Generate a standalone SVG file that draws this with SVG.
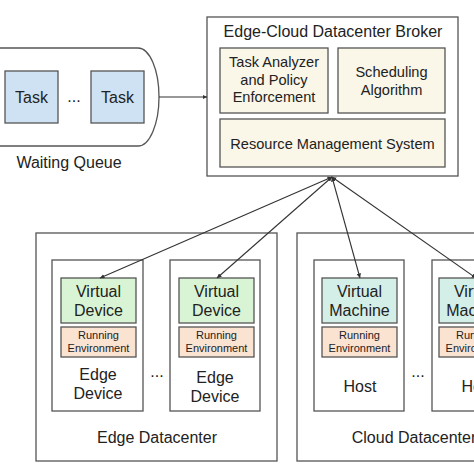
<svg xmlns="http://www.w3.org/2000/svg" width="474" height="474" viewBox="0 0 474 474">
<defs>
<marker id="ah" viewBox="0 0 10 10" refX="10" refY="5" markerWidth="4.5" markerHeight="4.5" orient="auto-start-reverse" markerUnits="userSpaceOnUse">
<path d="M0,0 L10,5 L0,10 z" fill="#333"/>
</marker>
<style>
text{font-family:"Liberation Sans",Arial,sans-serif;fill:#222;text-anchor:middle}
.box{fill:#fff;stroke:#555;stroke-width:1.3}
.cream{fill:#faf6e8;stroke:#555;stroke-width:1.3}
.task{fill:#cfe2f3;stroke:#555;stroke-width:1.3}
.vd{fill:#d9f4d5;stroke:#555;stroke-width:1.3}
.vm{fill:#d4efe8;stroke:#555;stroke-width:1.3}
.re{fill:#fbe3d2;stroke:#555;stroke-width:1.3}
.f16{font-size:16px}
.f15{font-size:14.6px}
.f11{font-size:11px}
.conn{stroke:#333;stroke-width:1.1;fill:none}
</style>
</defs>
<rect width="474" height="474" fill="#fff"/>

<g id="waiting-queue">
<path class="box" d="M-10,48 H138 A21,49 0 0 1 138,146 H-10"/>
<rect class="task" x="5" y="71" width="53" height="52"/>
<text class="f16" x="31.5" y="103">Task</text>
<text class="f16" x="74" y="102">...</text>
<rect class="task" x="91" y="71" width="53" height="52"/>
<text class="f16" x="117.5" y="103">Task</text>
<text class="f16" x="69" y="168">Waiting Queue</text>
</g>

<g id="broker">
<rect class="box" x="207" y="17" width="251" height="159"/>
<text class="f16" x="333" y="37">Edge-Cloud Datacenter Broker</text>
<g id="task-analyzer">
<rect class="cream" x="220" y="48" width="108" height="65"/>
<text class="f15" x="274" y="67">Task Analyzer</text>
<text class="f15" x="274" y="84.5">and Policy</text>
<text class="f15" x="274" y="102">Enforcement</text>
</g>
<g id="scheduling">
<rect class="cream" x="338" y="48" width="107" height="65"/>
<text class="f15" x="391.5" y="77">Scheduling</text>
<text class="f15" x="391.5" y="94.5">Algorithm</text>
</g>
<g id="rms">
<rect class="cream" x="220" y="119" width="225" height="48"/>
<text class="f15" x="332.5" y="149">Resource Management System</text>
</g>
</g>

<g id="edge-datacenter">
<rect class="box" x="36" y="233" width="241" height="228"/>
<text class="f16" x="157" y="443">Edge Datacenter</text>
<g id="edge-device-1">
<rect class="box" x="52" y="260" width="91" height="151"/>
<rect class="vd" x="61" y="278" width="75" height="45"/>
<text class="f16" x="98.5" y="297">Virtual</text>
<text class="f16" x="98.5" y="316">Device</text>
<rect class="re" x="61" y="327" width="75" height="30"/>
<text class="f11" x="98.5" y="339">Running</text>
<text class="f11" x="98.5" y="352">Environment</text>
<text class="f16" x="98" y="380">Edge</text>
<text class="f16" x="98" y="399">Device</text>
</g>
<text class="f16" x="157" y="377">...</text>
<g id="edge-device-2">
<rect class="box" x="170" y="260" width="90" height="151"/>
<rect class="vd" x="179" y="278" width="75" height="45"/>
<text class="f16" x="216.5" y="297">Virtual</text>
<text class="f16" x="216.5" y="316">Device</text>
<rect class="re" x="179" y="327" width="75" height="30"/>
<text class="f11" x="216.5" y="339">Running</text>
<text class="f11" x="216.5" y="352">Environment</text>
<text class="f16" x="215" y="383">Edge</text>
<text class="f16" x="215" y="402">Device</text>
</g>
</g>

<g id="cloud-datacenter">
<rect class="box" x="297" y="233" width="200" height="228"/>
<text class="f16" x="414" y="443">Cloud Datacenter</text>
<g id="host-1">
<rect class="box" x="314" y="260" width="90" height="151"/>
<rect class="vm" x="322" y="278" width="75" height="45"/>
<text class="f16" x="359.5" y="297">Virtual</text>
<text class="f16" x="359.5" y="316">Machine</text>
<rect class="re" x="322" y="327" width="75" height="30"/>
<text class="f11" x="359.5" y="339">Running</text>
<text class="f11" x="359.5" y="352">Environment</text>
<text class="f16" x="360" y="392">Host</text>
</g>
<text class="f16" x="418" y="377">...</text>
<g id="host-2">
<rect class="box" x="432" y="260" width="90" height="151"/>
<rect class="vm" x="439" y="278" width="75" height="45"/>
<text class="f16" x="476.5" y="297">Virtual</text>
<text class="f16" x="476.5" y="316">Machine</text>
<rect class="re" x="439" y="327" width="75" height="30"/>
<text class="f11" x="476.5" y="339">Running</text>
<text class="f11" x="476.5" y="352">Environment</text>
<text class="f16" x="478" y="392">Host</text>
</g>
</g>

<g id="connectors">
<line class="conn" x1="159" y1="97" x2="207" y2="97" marker-end="url(#ah)"/>
<line class="conn" x1="332" y1="177" x2="100" y2="278" marker-start="url(#ah)" marker-end="url(#ah)"/>
<line class="conn" x1="332" y1="177" x2="217" y2="278" marker-start="url(#ah)" marker-end="url(#ah)"/>
<line class="conn" x1="332" y1="177" x2="360" y2="278" marker-start="url(#ah)" marker-end="url(#ah)"/>
<line class="conn" x1="332" y1="177" x2="476" y2="278" marker-start="url(#ah)" marker-end="url(#ah)"/>
</g>
</svg>
